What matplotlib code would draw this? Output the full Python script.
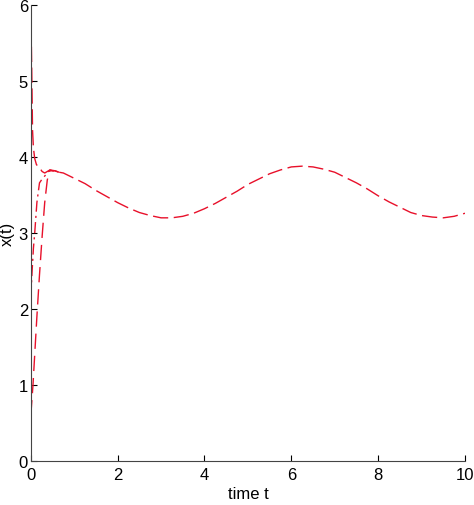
import matplotlib
matplotlib.use('Agg')
from matplotlib import pyplot as plt

plt.rcParams['font.family'] = ['Liberation Sans', 'DejaVu Sans']

# shared tail after the transients die out
t_tail = [0.75, 1.0, 1.25, 1.5, 1.75, 2.0, 2.25, 2.5, 2.75, 3.0, 3.25, 3.5, 3.75,
          4.0, 4.25, 4.5, 4.75, 5.0, 5.25, 5.5, 5.75, 6.0, 6.25, 6.5, 6.75, 7.0,
          7.25, 7.5, 7.75, 8.0, 8.25, 8.5, 8.75, 9.0, 9.25, 9.5, 9.75, 10.0]
x_tail = [3.79, 3.72, 3.65, 3.56, 3.48, 3.40, 3.33, 3.27, 3.23, 3.20, 3.20, 3.22, 3.26,
          3.32, 3.39, 3.47, 3.55, 3.64, 3.71, 3.78, 3.83, 3.87, 3.88, 3.87, 3.84, 3.80,
          3.73, 3.66, 3.58, 3.49, 3.41, 3.34, 3.27, 3.23, 3.21, 3.20, 3.22, 3.26]

# transient parts for the three initial values
t_a = [0, 0.02, 0.04, 0.06, 0.09, 0.13, 0.2, 0.26, 0.32, 0.44, 0.55, 0.65]
x_a = [6.0, 5.2, 4.35, 4.12, 3.98, 3.9, 3.86, 3.81, 3.79, 3.83, 3.81, 3.80]

t_b = [0, 0.03, 0.06, 0.09, 0.14, 0.2, 0.26, 0.32, 0.44, 0.55, 0.65]
x_b = [2.15, 2.5, 2.8, 3.0, 3.4, 3.66, 3.71, 3.75, 3.83, 3.82, 3.80]

t_c = [0, 0.05, 0.09, 0.14, 0.2, 0.26, 0.32, 0.38, 0.44, 0.55, 0.65]
x_c = [0.6, 1.0, 1.4, 1.9, 2.45, 2.95, 3.4, 3.7, 3.82, 3.82, 3.80]

fig = plt.figure(figsize=(4.74, 5.06), dpi=100)
ax = fig.add_axes([0.065, 0.087, 0.916, 0.901])

red = '#e8102a'
# the curves coincide after t ~ 0.7, so the tail shows one dash pattern
ax.plot(t_a + t_tail, x_a + x_tail, color=red, lw=1.0, dashes=(11, 4))
ax.plot(t_b, x_b, color=red, lw=1.0, dashes=(8, 3, 1.5, 3))
ax.plot(t_c, x_c, color=red, lw=1.0, dashes=(11, 5))

ax.set_xlim(0, 10)
ax.set_ylim(0, 6)
ax.set_xticks([0, 2, 4, 6, 8, 10])
ax.set_yticks([0, 1, 2, 3, 4, 5, 6])
for side in ['top', 'right']:
    ax.spines[side].set_visible(False)
for side in ['left', 'bottom']:
    ax.spines[side].set_color('#444444')
ax.tick_params(direction='in', length=4, labelsize=12, colors='black', pad=2)
ax.tick_params(axis='x', pad=4)
ax.set_xlabel('time t', fontsize=12)
ax.set_ylabel('x(t)', fontsize=12)
ax.xaxis.set_label_coords(0.5, -0.055)
ax.yaxis.set_label_coords(-0.037, 0.5)

fig.savefig('out.png', dpi=100)
